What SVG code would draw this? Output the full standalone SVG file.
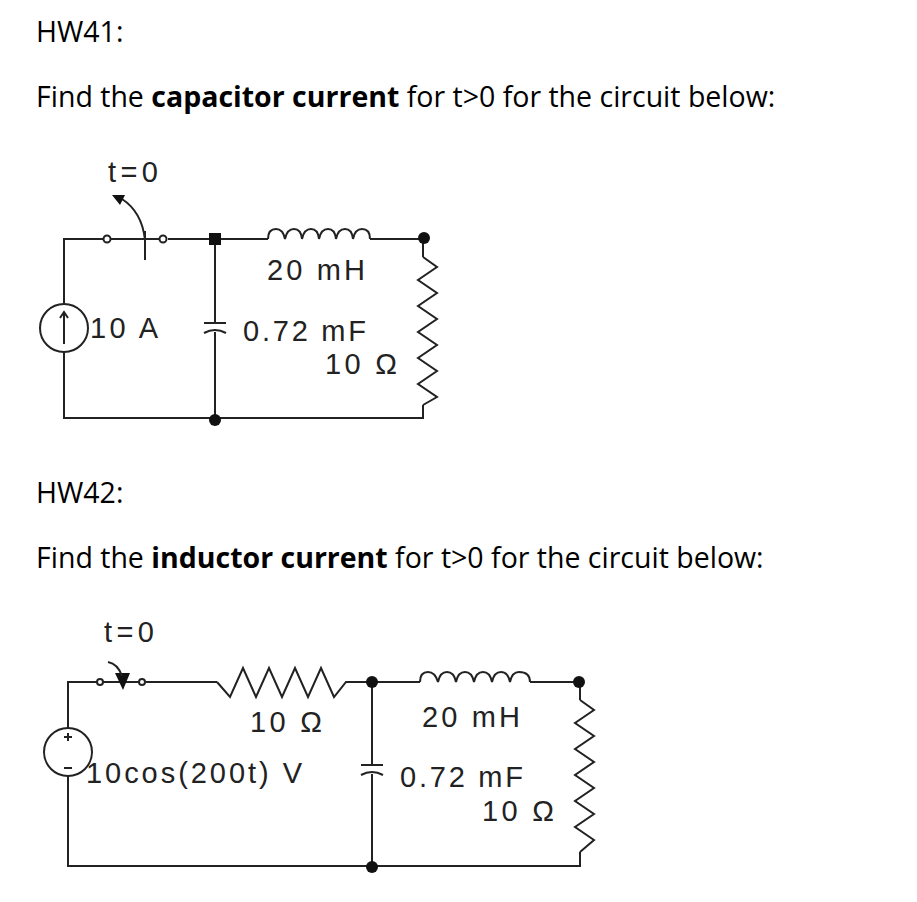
<svg xmlns="http://www.w3.org/2000/svg" width="917" height="902" viewBox="0 0 917 902">
<style>
.h{font-family:"Open Sans","Liberation Sans",sans-serif;font-size:28.5px;fill:#000}
.l{font-family:"Liberation Sans",Arial,sans-serif;font-size:29px;fill:#222}
.w{stroke:#222;stroke-width:2;fill:none}
.d{fill:#111}
</style>
<rect width="917" height="902" fill="#fff"/>
<text class="h" x="36" y="42">HW41:</text>
<text class="h" x="36" y="107">Find the <tspan font-weight="bold">capacitor current</tspan> for t&gt;0 for the circuit below:</text>
<text class="h" x="36" y="503">HW42:</text>
<text class="h" x="36" y="568">Find the <tspan font-weight="bold">inductor current</tspan> for t&gt;0 for the circuit below:</text>

<g id="c1-connectors">
<path class="w" d="M104 239H64V304M64 352V418H423V405M423 257V239M215 239V322M215 332V418M168 239H268M370 239H423"/>
</g>
<g id="c1-switch">
<circle class="w" cx="107" cy="239" r="3.5" stroke-width="1.5"/>
<circle class="w" cx="163" cy="239" r="3.5" stroke-width="1.5"/>
<line class="w" x1="111" y1="239" x2="159" y2="239"/>
<line class="w" x1="145" y1="231" x2="145" y2="260"/>
<path class="w" d="M145 240Q142 212 122 199" stroke-width="1.5"/>
<path class="d" d="M112 195L125 195L120 205Z"/>
<text class="l" x="108" y="182" textLength="50">t=0</text>
</g>
<g id="c1-source">
<circle class="w" cx="64" cy="328" r="24" stroke-width="1.5"/>
<path class="w" d="M64 344V314M60 318L64 312L68 318" stroke-width="1.5"/>
<text class="l" x="90" y="338" textLength="68">10 A</text>
</g>
<g id="c1-cap">
<path class="w" d="M204 323H226M204 333Q215 327 226 333"/>
<text class="l" x="243" y="341" textLength="123">0.72 mF</text>
</g>
<g id="c1-ind">
<path class="w" d="M268 239Q268 229 276 229Q283 229 285 239Q287 229 294 229Q301 229 302 239Q304 229 311 229Q318 229 319 239Q321 229 328 229Q335 229 336 239Q338 229 345 229Q352 229 353 239Q355 229 362 229Q370 229 370 239"/>
<text class="l" x="267" y="280" textLength="98">20 mH</text>
</g>
<g id="c1-res">
<path class="w" d="M423 257L437 267L418 280L437 293L418 306L437 319L418 332L437 345L418 358L437 371L418 384L437 397L423 405"/>
<text class="l" x="325" y="374" textLength="72">10 Ω</text>
</g>
<rect x="209" y="233" width="12" height="12" class="d"/>
<circle cx="424" cy="238" r="6" class="d"/>
<circle cx="215" cy="420" r="6" class="d"/>

<g id="c2-connectors">
<path class="w" d="M97 682H68V728M68 776V866H580V852M580 700V682M372 682V764M372 774V866M146 682H217M353 682H420M530 682H580"/>
</g>
<g id="c2-switch">
<circle class="w" cx="100" cy="682" r="3" stroke-width="1.5"/>
<circle class="w" cx="142" cy="682" r="3" stroke-width="1.5"/>
<path class="w" d="M103 682H139" stroke-width="1.5"/>
<path class="d" d="M115 673L130 673L123 690Z"/>
<path class="w" d="M108 662Q118 664 122 676" stroke-width="1.5"/>
<text class="l" x="104" y="642" textLength="50">t=0</text>
</g>
<g id="c2-res1">
<path class="w" d="M217 682L230 697L243 668L256 697L269 668L282 697L295 668L308 697L321 668L334 697L346 682L353 682"/>
<text class="l" x="250" y="732" textLength="72">10 Ω</text>
</g>
<g id="c2-source">
<circle class="w" cx="68" cy="752" r="24" stroke-width="1.5"/>
<path class="w" d="M64 737H72M68 733V741M64 768H72" stroke-width="1.5"/>
<text class="l" x="86" y="783" textLength="216">10cos(200t) V</text>
</g>
<g id="c2-cap">
<path class="w" d="M361 765H383M361 775Q372 769 383 775"/>
<text class="l" x="400" y="787" textLength="123">0.72 mF</text>
</g>
<g id="c2-ind">
<path class="w" d="M420 682Q420 672 428 672Q435 672 438 682Q440 672 447 672Q454 672 456 682Q458 672 465 672Q472 672 474 682Q476 672 483 672Q490 672 492 682Q494 672 501 672Q508 672 510 682Q512 672 519 672Q530 672 530 682"/>
<text class="l" x="422" y="727" textLength="98">20 mH</text>
</g>
<g id="c2-res2">
<path class="w" d="M580 700L594 710L575 723L594 736L575 749L594 762L575 775L594 788L575 801L594 814L575 827L594 840L580 852"/>
<text class="l" x="482" y="821" textLength="72">10 Ω</text>
</g>
<circle cx="372" cy="682" r="6" class="d"/>
<circle cx="579" cy="682" r="6" class="d"/>
<circle cx="372" cy="867" r="6" class="d"/>
</svg>
